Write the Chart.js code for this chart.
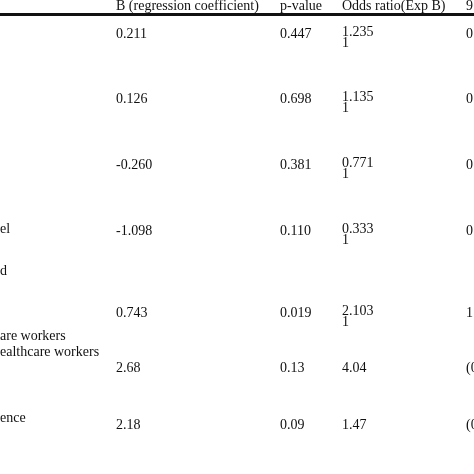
<!DOCTYPE html>
<html><head><meta charset="utf-8">
<script src="https://cdn.jsdelivr.net/npm/chart.js@4"></script>
<style>html,body{margin:0;padding:0;background:#fff;}canvas{display:block;}</style>
</head><body>
<canvas id="c" width="474" height="474"></canvas>
<script>
// Table content
const headers = ["B (regression coefficient)", "p-value", "Odds ratio(Exp B)", "9"];
const rowLabels = ["", "", "", "el", "", "", "ealthcare workers", "ence"];
const bValues = ["0.211", "0.126", "-0.260", "-1.098", "", "0.743", "2.68", "2.18"];
const pValues = ["0.447", "0.698", "0.381", "0.110", "", "0.019", "0.13", "0.09"];
const orValues = ["1.235", "1.135", "0.771", "0.333", "", "2.103", "4.04", "1.47"];
const orSub = ["1", "1", "1", "1", "", "1", "", ""];
const ciPartial = ["0", "0", "0", "0", "", "1", "(0", "(0"];
const extraLabels = [["d", 4], ["are workers", 5.6]];

// layout (row centre y in scale units, column x in scale units)
const rowY = [37, 102, 168, 234, 271, 316, 368, 425];
const colX = [0, 116, 280, 342, 466];

const tablePlugin = {
  id: 'table',
  afterDraw(chart) {
    const ctx = chart.ctx, xs = chart.scales.x, ys = chart.scales.y;
    ctx.save();
    ctx.fillStyle = '#111';
    ctx.font = '14px "Liberation Serif", "Times New Roman", serif';
    ctx.textBaseline = 'middle';
    ctx.textAlign = 'left';
    headers.forEach((h, i) => ctx.fillText(h, xs.getPixelForValue(colX[i + 1]), ys.getPixelForValue(6)));
    // rule under header
    ctx.fillRect(xs.getPixelForValue(0), ys.getPixelForValue(13), xs.getPixelForValue(474) - xs.getPixelForValue(0), 3);
    for (let i = 0; i < rowY.length; i++) {
      const y = rowY[i];
      const hasSub = orSub[i] !== "";
      const yMain = hasSub ? y - 5 : y;
      if (rowLabels[i]) {
        const ly = (i === 6) ? 352 : (i === 7 ? 418 : y - 5);
        ctx.fillText(rowLabels[i], xs.getPixelForValue(colX[0]), ys.getPixelForValue(ly));
      }
      const yv = hasSub ? y - 3 : y;
      if (bValues[i]) ctx.fillText(bValues[i], xs.getPixelForValue(colX[1]), ys.getPixelForValue(yv));
      if (pValues[i]) ctx.fillText(pValues[i], xs.getPixelForValue(colX[2]), ys.getPixelForValue(yv));
      if (orValues[i]) ctx.fillText(orValues[i], xs.getPixelForValue(colX[3]), ys.getPixelForValue(yMain));
      if (hasSub) ctx.fillText(orSub[i], xs.getPixelForValue(colX[3]), ys.getPixelForValue(y + 6));
      if (ciPartial[i]) ctx.fillText(ciPartial[i], xs.getPixelForValue(colX[4]), ys.getPixelForValue(yv));
    }
    ctx.fillText("d", xs.getPixelForValue(0), ys.getPixelForValue(271));
    ctx.fillText("are workers", xs.getPixelForValue(0), ys.getPixelForValue(336));
    ctx.restore();
  }
};

new Chart(document.getElementById('c'), {
  type: 'scatter',
  data: { datasets: [{ data: [], pointRadius: 0 }] },
  options: {
    responsive: false,
    animation: false,
    layout: { padding: 0 },
    plugins: { legend: { display: false }, tooltip: { enabled: false } },
    scales: {
      x: { type: 'linear', min: 0, max: 474, display: false },
      y: { type: 'linear', min: 0, max: 474, reverse: true, display: false }
    }
  },
  plugins: [tablePlugin]
});
</script>
</body></html>
